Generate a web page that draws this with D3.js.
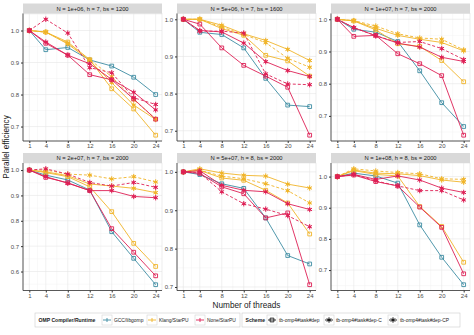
<!DOCTYPE html>
<html>
<head>
<meta charset="utf-8">
<script src="https://cdn.jsdelivr.net/npm/d3@7"></script>
<style>
  body { margin: 0; background: #fff; }
  text { font-family: "Liberation Sans", Arial, sans-serif; }
</style>
</head>
<body>
<svg id="chart" width="474" height="335"></svg>
<script>
var threads = [1, 4, 8, 12, 16, 20, 24];

var panelTitles = [
  'N = 1e+06, h = 7, bs = 1200',
  'N = 5e+06, h = 7, bs = 1600',
  'N = 1e+07, h = 7, bs = 2000',
  'N = 2e+07, h = 7, bs = 2000',
  'N = 5e+07, h = 8, bs = 2000',
  'N = 1e+08, h = 8, bs = 2000'
];

var runtimes = ['GCC/libgomp', 'Klang/StarPU', 'None/StarPU'];
var runtimeColors = ['#3d8ca3', '#f0b429', '#de1f55'];
var schemes = ['tb-omp4#task#dep', 'tb-omp4#task#dep-C', 'tb-omp4#task#dep-CP'];

// parallel efficiency, one row per panel, one column per thread count
var gccDep = [
  [1.0, 0.940, 0.947, 0.908, 0.889, 0.854, 0.800],
  [1.0, 0.965, 0.959, 0.923, 0.841, 0.769, 0.765],
  [1.0, 0.969, 0.960, 0.931, 0.840, 0.741, 0.667],
  [1.0, 0.980, 0.961, 0.921, 0.757, 0.652, 0.548],
  [1.0, 0.993, 0.969, 0.957, 0.880, 0.782, 0.760],
  [1.0, 1.011, 1.002, 0.979, 0.845, 0.741, 0.653]
];
var klangDep = [
  [1.0, 0.995, 0.964, 0.909, 0.818, 0.755, 0.673],
  [1.0, 1.000, 0.975, 0.957, 0.903, 0.888, 0.847],
  [1.0, 0.995, 0.967, 0.924, 0.916, 0.872, 0.806],
  [1.0, 0.990, 0.974, 0.934, 0.836, 0.711, 0.620],
  [1.0, 1.004, 0.984, 0.978, 0.952, 0.919, 0.838],
  [1.0, 1.019, 1.007, 1.002, 0.904, 0.840, 0.725]
];
var klangC = [
  [1.0, 0.995, 0.958, 0.906, 0.837, 0.767, 0.722],
  [1.0, 1.000, 0.984, 0.961, 0.943, 0.919, 0.889],
  [1.0, 0.995, 0.972, 0.950, 0.938, 0.928, 0.902],
  [1.0, 0.993, 0.978, 0.945, 0.937, 0.928, 0.911],
  [1.0, 1.008, 0.997, 0.991, 0.989, 0.968, 0.958],
  [1.0, 1.021, 1.011, 1.009, 1.003, 0.989, 0.982]
];
var klangCP = [
  [1.0, 0.995, 0.960, 0.909, 0.856, 0.784, 0.724],
  [1.0, 1.000, 0.979, 0.959, 0.937, 0.895, 0.871],
  [1.0, 0.996, 0.979, 0.955, 0.942, 0.938, 0.905],
  [1.0, 1.000, 0.984, 0.980, 0.965, 0.974, 0.953],
  [1.0, 1.004, 0.989, 0.982, 0.969, 0.951, 0.919],
  [1.0, 1.025, 1.018, 1.013, 1.009, 0.993, 0.991]
];
var noneDep = [
  [1.0, 0.960, 0.923, 0.862, 0.846, 0.786, 0.723],
  [1.0, 0.987, 0.923, 0.876, 0.847, 0.817, 0.688],
  [1.0, 0.947, 0.950, 0.893, 0.862, 0.825, 0.640],
  [1.0, 0.971, 0.950, 0.919, 0.769, 0.676, 0.583],
  [1.0, 0.996, 0.961, 0.943, 0.880, 0.893, 0.706],
  [1.0, 1.005, 0.984, 0.970, 0.902, 0.837, 0.688]
];
var noneC = [
  [1.0, 0.964, 0.923, 0.896, 0.847, 0.807, 0.752],
  [1.0, 0.970, 0.966, 0.936, 0.886, 0.862, 0.846],
  [1.0, 0.974, 0.949, 0.926, 0.914, 0.882, 0.869],
  [1.0, 0.974, 0.948, 0.919, 0.919, 0.896, 0.891],
  [1.0, 1.003, 0.965, 0.952, 0.948, 0.917, 0.902],
  [1.0, 1.007, 0.991, 1.002, 0.989, 0.963, 0.949]
];
var noneCP = [
  [1.0, 1.035, 0.992, 0.884, 0.868, 0.790, 0.769],
  [1.0, 0.968, 0.968, 0.963, 0.853, 0.826, 0.824],
  [1.0, 0.974, 0.949, 0.928, 0.931, 0.909, 0.875],
  [1.0, 1.005, 0.984, 0.951, 0.937, 0.951, 0.932],
  [1.0, 0.997, 0.948, 0.917, 0.903, 0.886, 0.857],
  [1.0, 1.007, 0.986, 0.970, 0.955, 0.955, 0.925]
];

var series = [
  { runtime: 0, scheme: 0, values: gccDep },
  { runtime: 1, scheme: 0, values: klangDep },
  { runtime: 1, scheme: 1, values: klangC },
  { runtime: 1, scheme: 2, values: klangCP },
  { runtime: 2, scheme: 0, values: noneDep },
  { runtime: 2, scheme: 1, values: noneC },
  { runtime: 2, scheme: 2, values: noneCP }
];

var svg = d3.select('#chart');

var panelLefts = [23, 177, 331];
var rowTops = [3.5, 153];
var panelW = 139, stripH = 10, plotH = 127.5;

function expand(ext, f) {
  var pad = (ext[1] - ext[0]) * f;
  return [ext[0] - pad, ext[1] + pad];
}

var x = d3.scaleLinear()
  .domain(expand([1, 24], 0.05))
  .range([0, panelW]);

var xMinor = [2.5, 6, 10, 14, 18, 22];

function marker(g, s, color) {
  if (s.scheme === 0) {
    g.append('path')
      .attr('d', d3.symbol().type(d3.symbolSquare).size(14)())
      .attr('fill', 'none')
      .attr('stroke', color)
      .attr('stroke-width', 0.9);
  } else {
    g.append('path')
      .attr('d', d3.symbol().type(d3.symbolAsterisk).size(20)())
      .attr('fill', 'none')
      .attr('stroke', color)
      .attr('stroke-width', 1);
    g.append('circle')
      .attr('r', 1.3)
      .attr('fill', color);
  }
}

panelTitles.forEach(function (title, p) {
  var col = p % 3, row = Math.floor(p / 3);
  var g = svg.append('g')
    .attr('transform', 'translate(' + panelLefts[col] + ',' + rowTops[row] + ')');

  var all = [];
  series.forEach(function (s) { all = all.concat(s.values[p]); });
  var y = d3.scaleLinear()
    .domain(expand(d3.extent(all), 0.05))
    .range([stripH + plotH, stripH]);

  var lo = y.domain()[0], hi = y.domain()[1];
  var yTicks = d3.range(Math.ceil(lo * 10 - 1e-9), Math.floor(hi * 10 + 1e-9) + 1)
    .map(function (v) { return v / 10; });
  var yMinor = d3.range(Math.ceil(lo * 20 - 1e-9), Math.floor(hi * 20 + 1e-9) + 1)
    .map(function (v) { return v / 20; })
    .filter(function (v) { return Math.abs(v * 10 - Math.round(v * 10)) > 1e-6; });

  // grid
  var grid = g.append('g');
  grid.selectAll('line.minor-y').data(yMinor).enter().append('line')
    .attr('x1', 0).attr('x2', panelW)
    .attr('y1', y).attr('y2', y)
    .attr('stroke', '#f3f3f3').attr('stroke-width', 0.5);
  grid.selectAll('line.minor-x').data(xMinor).enter().append('line')
    .attr('x1', x).attr('x2', x)
    .attr('y1', stripH).attr('y2', stripH + plotH)
    .attr('stroke', '#f3f3f3').attr('stroke-width', 0.5);
  grid.selectAll('line.major-y').data(yTicks).enter().append('line')
    .attr('x1', 0).attr('x2', panelW)
    .attr('y1', y).attr('y2', y)
    .attr('stroke', '#e6e6e6').attr('stroke-width', 0.6);
  grid.selectAll('line.major-x').data(threads).enter().append('line')
    .attr('x1', x).attr('x2', x)
    .attr('y1', stripH).attr('y2', stripH + plotH)
    .attr('stroke', '#e6e6e6').attr('stroke-width', 0.6);

  g.append('rect')
    .attr('x', 0).attr('y', stripH)
    .attr('width', panelW).attr('height', plotH)
    .attr('fill', 'none')
    .attr('stroke', '#d9d9d9')
    .attr('stroke-width', 0.5);

  // strip
  g.append('rect')
    .attr('x', 0).attr('y', 0)
    .attr('width', panelW).attr('height', stripH)
    .attr('fill', '#d9d9d9');
  g.append('text')
    .attr('x', panelW / 2).attr('y', stripH / 2 + 2)
    .attr('text-anchor', 'middle')
    .attr('font-size', 5.8)
    .attr('fill', '#1a1a1a')
    .text(title);

  // axes
  var yAxis = g.append('g')
    .call(d3.axisLeft(y).tickValues(yTicks).tickFormat(d3.format('.1f')).tickSize(2).tickPadding(2));
  var xAxis = g.append('g')
    .attr('transform', 'translate(0,' + (stripH + plotH) + ')')
    .call(d3.axisBottom(x).tickValues(threads).tickSize(2).tickPadding(0.8));
  [yAxis, xAxis].forEach(function (a) {
    a.select('.domain').remove();
    a.selectAll('line').attr('stroke', '#333');
    a.selectAll('text')
      .attr('font-size', 6)
      .attr('fill', '#4d4d4d')
      .style('font-family', '"Liberation Sans", Arial, sans-serif');
  });
  g.append('line')
    .attr('x1', 0).attr('x2', 0)
    .attr('y1', stripH).attr('y2', stripH + plotH)
    .attr('stroke', '#333').attr('stroke-width', 0.8);
  g.append('line')
    .attr('x1', 0).attr('x2', panelW)
    .attr('y1', stripH + plotH).attr('y2', stripH + plotH)
    .attr('stroke', '#333').attr('stroke-width', 0.8);

  // lines and points
  var line = d3.line()
    .x(function (d, i) { return x(threads[i]); })
    .y(function (d) { return y(d); });

  series.forEach(function (s) {
    var color = runtimeColors[s.runtime];
    g.append('path')
      .datum(s.values[p])
      .attr('d', line)
      .attr('fill', 'none')
      .attr('stroke', color)
      .attr('stroke-width', 0.9)
      .attr('stroke-dasharray', s.scheme === 2 ? '3,2' : null);
    s.values[p].forEach(function (v, i) {
      var m = g.append('g')
        .attr('transform', 'translate(' + x(threads[i]) + ',' + y(v) + ')');
      marker(m, s, color);
    });
  });
});

// axis titles
svg.append('text')
  .attr('x', (panelLefts[0] + panelLefts[2] + panelW) / 2)
  .attr('y', 307.5)
  .attr('text-anchor', 'middle')
  .attr('font-size', 8.2)
  .attr('fill', '#1a1a1a')
  .text('Number of threads');
svg.append('text')
  .attr('transform', 'translate(9,' + ((rowTops[0] + rowTops[1] + stripH + plotH) / 2) + ') rotate(-90)')
  .attr('text-anchor', 'middle')
  .attr('font-size', 8.2)
  .attr('fill', '#1a1a1a')
  .text('Parallel efficiency');

// legends
function legendBox(x0, width, title, labels, drawKey, keyXs) {
  var lg = svg.append('g').attr('transform', 'translate(' + x0 + ',313)');
  lg.append('rect')
    .attr('width', width).attr('height', 14)
    .attr('fill', '#fff')
    .attr('stroke', '#cccccc')
    .attr('stroke-width', 0.6);
  lg.append('text')
    .attr('x', 3.5).attr('y', 8.8)
    .attr('font-size', 5.1)
    .attr('font-weight', 'bold')
    .attr('fill', '#1a1a1a')
    .text(title);
  labels.forEach(function (lab, i) {
    var k = lg.append('g').attr('transform', 'translate(' + keyXs[i] + ',7)');
    k.append('rect')
      .attr('x', -5).attr('y', -5)
      .attr('width', 10).attr('height', 10)
      .attr('fill', '#fff')
      .attr('stroke', '#cccccc')
      .attr('stroke-width', 0.5);
    drawKey(k, i);
    lg.append('text')
      .attr('x', keyXs[i] + 7).attr('y', 8.8)
      .attr('font-size', 4.9)
      .attr('fill', '#1a1a1a')
      .text(lab);
  });
}

legendBox(35, 205, 'OMP Compiler/Runtime', runtimes, function (k, i) {
  k.append('line')
    .attr('x1', -4).attr('x2', 4)
    .attr('stroke', runtimeColors[i]).attr('stroke-width', 0.9);
  k.append('line')
    .attr('y1', -2).attr('y2', 2)
    .attr('stroke', runtimeColors[i]).attr('stroke-width', 0.9);
}, [72, 117, 165]);

legendBox(242, 218, 'Scheme', schemes, function (k, i) {
  k.append('line')
    .attr('x1', -4).attr('x2', 4)
    .attr('stroke', '#1a1a1a').attr('stroke-width', 0.9)
    .attr('stroke-dasharray', i === 2 ? '2,1' : null);
  marker(k, { scheme: i }, '#1a1a1a');
}, [30, 87, 151]);
</script>
</body>
</html>
